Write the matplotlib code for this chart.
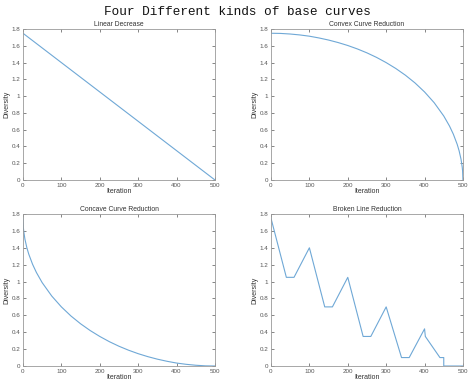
import matplotlib
matplotlib.use('Agg')
import matplotlib.pyplot as plt
from matplotlib.ticker import FormatStrFormatter

# data
lin_x = [0, 500]
lin_y = [1.75, 0]

convex_x = [0, 25, 50, 75, 100, 125, 150, 175, 200, 225, 250, 275, 300, 325, 350,
            375, 400, 425, 450, 465, 475, 485, 490, 495, 498, 499, 500]
convex_y = [1.75, 1.748, 1.741, 1.730, 1.715, 1.694, 1.669, 1.639, 1.604, 1.563, 1.516,
            1.462, 1.400, 1.330, 1.250, 1.158, 1.050, 0.922, 0.763, 0.643, 0.546, 0.425,
            0.348, 0.247, 0.156, 0.111, 0]

concave_x = [0, 1, 2, 5, 10, 15, 25, 35, 50, 75, 100, 125, 150, 175, 200, 225, 250,
             275, 300, 325, 350, 375, 400, 425, 450, 475, 500]
concave_y = [1.75, 1.639, 1.594, 1.503, 1.402, 1.325, 1.204, 1.107, 0.987, 0.828, 0.700,
             0.592, 0.500, 0.420, 0.350, 0.288, 0.234, 0.187, 0.146, 0.111, 0.081, 0.056,
             0.035, 0.020, 0.009, 0.002, 0]

broken_x = [0, 40, 60, 100, 140, 160, 200, 240, 260, 300, 340, 360, 400, 402, 440, 450, 450, 500]
broken_y = [1.75, 1.05, 1.05, 1.4, 0.7, 0.7, 1.05, 0.35, 0.35, 0.7, 0.1, 0.1, 0.44, 0.35, 0.1, 0.1, 0, 0]

titles = ['Linear Decrease', 'Convex Curve Reduction',
          'Concave Curve Reduction', 'Broken Line Reduction']
series = [(lin_x, lin_y), (convex_x, convex_y), (concave_x, concave_y), (broken_x, broken_y)]

plt.rcParams['font.family'] = ['Liberation Sans', 'DejaVu Sans']

fig = plt.figure(figsize=(4.74, 3.86), dpi=100)
fig.text(0.5, 0.968, 'Four Different kinds of base curves', ha='center', va='center',
         fontsize=9.2, family='Liberation Mono', color='#111111')

pos = [[0.0485, 0.5337, 0.405, 0.391], [0.5717, 0.5337, 0.405, 0.391],
       [0.0485, 0.0518, 0.405, 0.3938], [0.5717, 0.0518, 0.405, 0.3938]]

line_col = '#6fa8d6'
for p, t, (xs, ys) in zip(pos, titles, series):
    ax = fig.add_axes(p)
    ax.plot(xs, ys, color=line_col, lw=0.8)
    ax.set_xlim(0, 500)
    ax.set_ylim(0, 1.8)
    ax.set_xticks(range(0, 501, 100))
    ax.set_yticks([i * 0.2 for i in range(10)])
    ax.yaxis.set_major_formatter(FormatStrFormatter('%g'))
    ax.tick_params(direction='in', length=2, width=0.5, labelsize=4.5, colors='#555555',
                   top=True, right=True, pad=2)
    for s in ax.spines.values():
        s.set_color('#999999')
        s.set_linewidth(0.6)
    ax.set_title(t, fontsize=4.9, color='#333333', pad=2)
    ax.set_xlabel('Iteration', fontsize=5, color='#333333', labelpad=0.5)
    ax.set_ylabel('Diversity', fontsize=5, color='#333333', labelpad=1)

fig.savefig('out.png', dpi=100)
